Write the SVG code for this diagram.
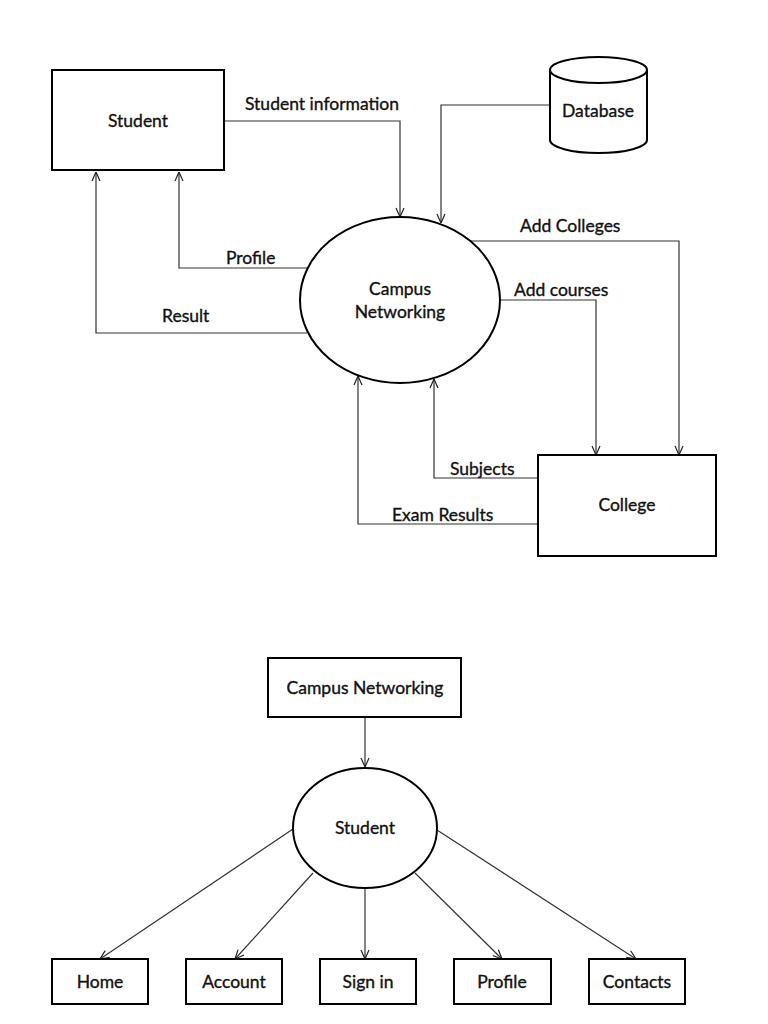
<svg xmlns="http://www.w3.org/2000/svg" width="768" height="1024" viewBox="0 0 768 1024">
<defs>
<marker id="arr" viewBox="0 0 10 10" refX="10" refY="5" markerWidth="10" markerHeight="10" markerUnits="userSpaceOnUse" orient="auto">
<path d="M1,1 L10,5 L1,9" fill="none" stroke="#222" stroke-width="1.2"/>
</marker>
</defs>
<style>
.box{fill:#fff;stroke:#000;stroke-width:2}
.con{fill:none;stroke:#333;stroke-width:1.2}
.t{font-family:Lato,"Liberation Sans",sans-serif;font-size:17.5px;fill:#111;stroke:#111;stroke-width:0.35}
.m{text-anchor:middle}
</style>
<rect width="768" height="1024" fill="#fff"/>
<g id="connectors">
<polyline class="con" points="224,121 400,121 400,217" marker-end="url(#arr)"/>
<polyline class="con" points="550,105 441,105 441,223" marker-end="url(#arr)"/>
<polyline class="con" points="308,268 179,268 179,172" marker-end="url(#arr)"/>
<polyline class="con" points="307,333 96,333 96,172" marker-end="url(#arr)"/>
<polyline class="con" points="470,241 679,241 679,455" marker-end="url(#arr)"/>
<polyline class="con" points="500,300 596,300 596,455" marker-end="url(#arr)"/>
<polyline class="con" points="538,478 434,478 434,379" marker-end="url(#arr)"/>
<polyline class="con" points="538,524 358,524 358,376" marker-end="url(#arr)"/>
<line class="con" x1="365" y1="717" x2="365" y2="767" marker-end="url(#arr)"/>
<line class="con" x1="293" y1="829" x2="100" y2="959" marker-end="url(#arr)"/>
<line class="con" x1="313" y1="873" x2="235" y2="959" marker-end="url(#arr)"/>
<line class="con" x1="365" y1="888" x2="365" y2="959" marker-end="url(#arr)"/>
<line class="con" x1="415" y1="873" x2="502" y2="959" marker-end="url(#arr)"/>
<line class="con" x1="437" y1="830" x2="636" y2="959" marker-end="url(#arr)"/>
</g>
<g class="t">
<text x="245" y="110">Student information</text>
<text x="226" y="264">Profile</text>
<text x="162" y="322">Result</text>
<text x="520" y="232">Add Colleges</text>
<text x="514" y="296">Add courses</text>
<text x="450" y="475">Subjects</text>
<text x="392" y="521">Exam Results</text>
</g>
<g id="student">
<rect class="box" x="52" y="70" width="172" height="100"/>
<text class="t m" x="138" y="127">Student</text>
</g>
<g id="database">
<path class="box" d="M550,70 L550,140 A48.5,13 0 0 0 647,140 L647,70"/>
<ellipse class="box" cx="598.5" cy="70" rx="48.5" ry="13"/>
<text class="t m" x="598" y="117">Database</text>
</g>
<g id="campus-networking">
<ellipse class="box" cx="400" cy="300" rx="100" ry="83"/>
<text class="t m" x="400" y="295">Campus</text>
<text class="t m" x="400" y="318">Networking</text>
</g>
<g id="college">
<rect class="box" x="538" y="455" width="178" height="101"/>
<text class="t m" x="627" y="511">College</text>
</g>
<g id="campus-networking-box">
<rect class="box" x="268" y="658" width="193" height="59"/>
<text class="t m" x="365" y="694">Campus Networking</text>
</g>
<g id="student-process">
<ellipse class="box" cx="365" cy="828" rx="72" ry="60"/>
<text class="t m" x="365" y="834">Student</text>
</g>
<g id="home">
<rect class="box" x="52" y="959" width="96" height="45"/>
<text class="t m" x="100" y="988">Home</text>
</g>
<g id="account">
<rect class="box" x="186" y="959" width="96" height="45"/>
<text class="t m" x="234" y="988">Account</text>
</g>
<g id="signin">
<rect class="box" x="320" y="959" width="96" height="45"/>
<text class="t m" x="368" y="988">Sign in</text>
</g>
<g id="profile">
<rect class="box" x="454" y="959" width="97" height="45"/>
<text class="t m" x="502" y="988">Profile</text>
</g>
<g id="contacts">
<rect class="box" x="589" y="959" width="96" height="45"/>
<text class="t m" x="637" y="988">Contacts</text>
</g>
</svg>
